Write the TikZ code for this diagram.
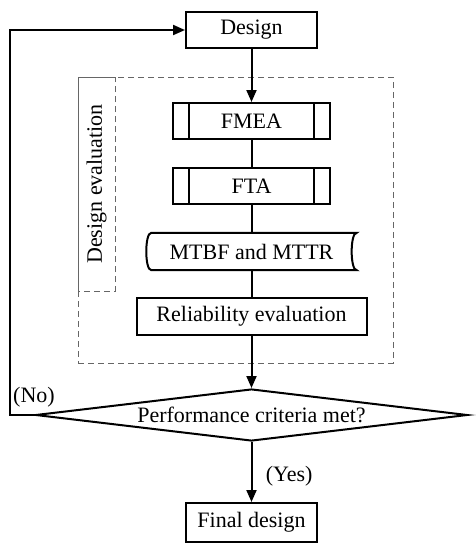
\documentclass[tikz,border=0pt]{standalone}
\usepackage{fontspec}
\setmainfont{Liberation Serif}
\usetikzlibrary{arrows.meta,positioning,shapes.geometric}

\begin{document}
\begin{tikzpicture}[x=1pt,y=1pt,on grid,auto,
    font=\fontsize{22}{26}\selectfont,
    box/.style={draw,line width=2pt,minimum height=36pt,inner sep=0pt},
    subproc/.style={box,minimum width=157pt,path picture={
        \draw[line width=2pt]
          ([xshift=16pt]path picture bounding box.north west) -- ([xshift=16pt]path picture bounding box.south west)
          ([xshift=-16pt]path picture bounding box.north east) -- ([xshift=-16pt]path picture bounding box.south east);}},
    datanode/.style={minimum width=210pt,minimum height=37pt,inner sep=0pt},
    decision/.style={diamond,draw,line width=2pt,aspect=8.3,inner sep=0pt,minimum width=432pt,minimum height=52pt},
    group/.style={draw=black!60,line width=1pt,dash pattern=on 6pt off 4pt,inner sep=0pt},
    flow/.style={line width=2pt,-{Triangle[length=12pt,width=10pt]}},
    link/.style={line width=2pt}]
  \useasboundingbox (0,0) rectangle (475,-550);

  \node[group,minimum width=315pt,minimum height=286pt] (area) at (235.5,-220) {};
  \node[group,rotate=90,minimum width=214pt,minimum height=37pt] (evallbl) at (96.5,-184) {Design evaluation};

  \node[box,minimum width=131pt] (design) at (251.5,-30) {Design};
  \node[subproc] (fmea) [below=91pt of design] {FMEA};
  \node[subproc] (fta) [below=65pt of fmea] {FTA};
  \node[datanode] (mtbf) [below=65.5pt of fta] {MTBF and MTTR};
  \node[box,minimum width=230pt,minimum height=37pt] (rel) [below=65pt of mtbf] {Reliability evaluation};
  \node[decision] (perf) [below=98.5pt of rel] {Performance criteria met?};
  \node[box,minimum width=131pt,minimum height=39pt] (final) [below=107.5pt of perf] {Final design};

  \draw[link] ([xshift=5pt]mtbf.north west) -- (mtbf.north east)
    .. controls ([xshift=-6.7pt]mtbf.north east) and ([xshift=-6.7pt]mtbf.south east) .. (mtbf.south east)
    -- ([xshift=5pt]mtbf.south west)
    .. controls ([xshift=-1.7pt]mtbf.south west) and ([xshift=-1.7pt]mtbf.north west) .. cycle;

  \path[flow] (design) edge (fmea)
              (rel) edge (perf)
              (perf) edge node[right,xshift=10pt,yshift=-4pt] {(Yes)} (final);
  \path[link] (fmea) edge (fta)
              (fta) edge (mtbf)
              (mtbf) edge (rel);
  \draw[flow] (perf.west) -- ++(-25,0) |- (design.west);
  \node (nolbl) at (34,-397) {(No)};
\end{tikzpicture}
\end{document}
